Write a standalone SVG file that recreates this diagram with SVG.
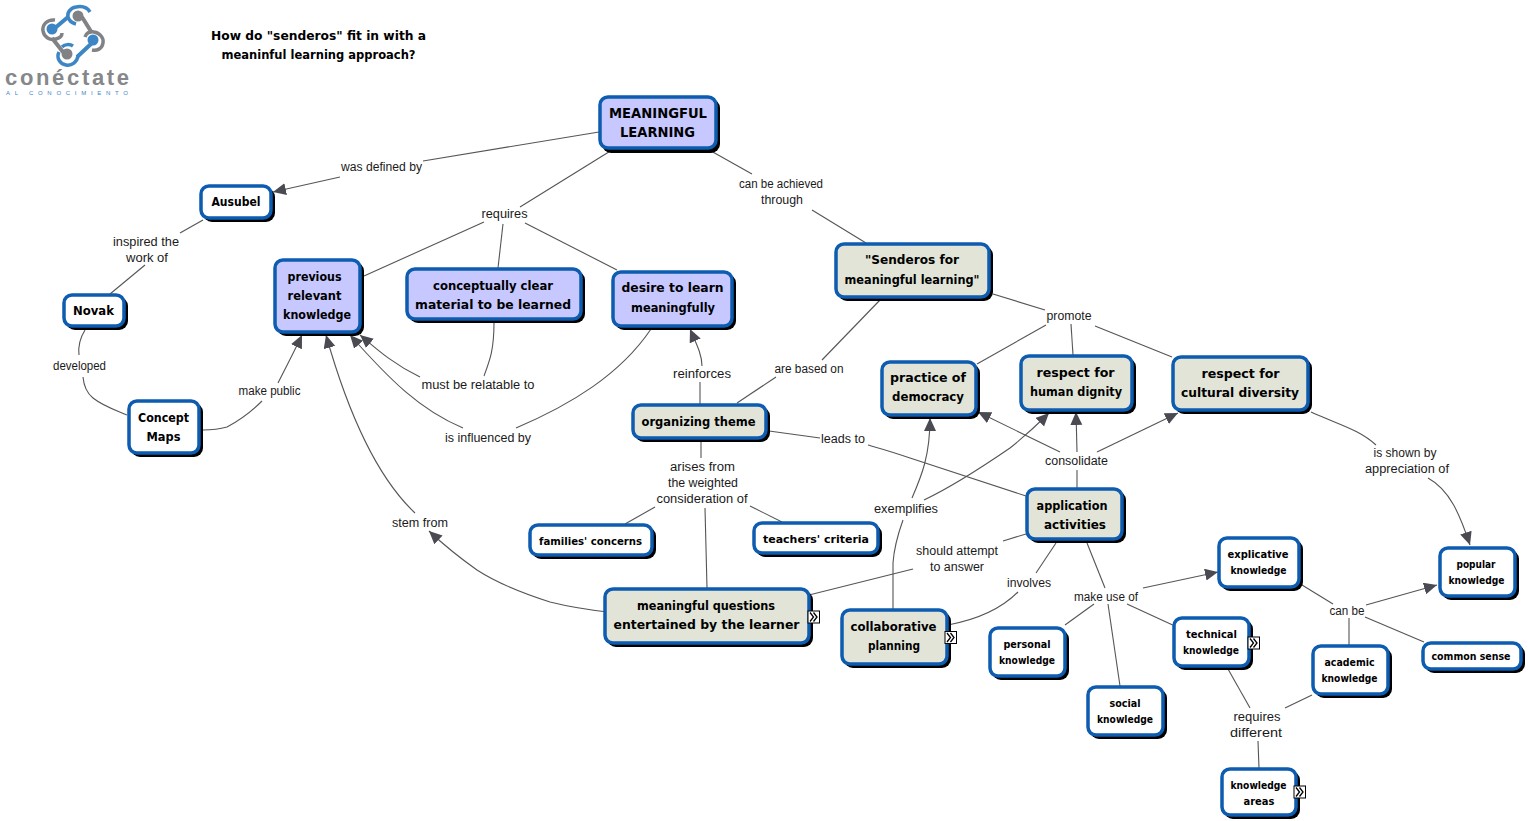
<svg xmlns="http://www.w3.org/2000/svg" width="1528" height="821" viewBox="0 0 1528 821">
<style>
.n text,.t{font-family:"DejaVu Sans","Liberation Sans",sans-serif;font-weight:700;fill:#000;text-anchor:middle}
.l{font-family:"Liberation Sans",Arial,sans-serif;font-size:12px;fill:#1a1a1a;text-anchor:middle}
.s{fill:#000}
.b{fill:#c6c8ff;stroke:#0d5cb0;stroke-width:3.5}
.g{fill:#e1e4d6;stroke:#0d5cb0;stroke-width:3.5}
.w{fill:#fff;stroke:#0d5cb0;stroke-width:3.5}
#c path{fill:none;stroke:#555;stroke-width:1.1}
.a{marker-end:url(#h)}
.ic{fill:#fff;stroke:#000;stroke-width:1}
.ch{fill:none;stroke:#000;stroke-width:1.3}
</style>
<defs>
<marker id="h" markerUnits="userSpaceOnUse" markerWidth="15" markerHeight="14" refX="13" refY="6" orient="auto"><path d="M0 0L13 6L0 12Z" fill="#4a4a52" stroke="none"/></marker>
</defs>
<rect width="1528" height="821" fill="#fff"/>
<g id="logo">
<g fill="none" stroke-width="3.500">
<path d="M55 20C47 19 42 25 43 31C44 37 50 41 56 39C60 38 62 36 62 33" stroke="#808285"/>
<path d="M90 12C87 7 81 6 76 7C70 8 67 13 68 17C69 21 72 23 76 24" stroke="#3d86c6"/>
<path d="M85 37C86 33 90 31 94 32C100 33 104 38 103 43C102 49 97 51 92 50" stroke="#808285"/>
<path d="M62 47C65 44 70 44 73 46M59 52C56 58 60 64 66 65C72 66 77 62 78 56" stroke="#3d86c6"/>
<path d="M82 17L92 33M52 38L63 52" stroke="#808285" stroke-width="4"/>
<path d="M55 28L68 17M92 43L77 57" stroke="#3d86c6" stroke-width="4"/>
</g>
<circle cx="52" cy="29" r="5.500" fill="#3d86c6"/><circle cx="78" cy="16" r="5.500" fill="#808285"/><circle cx="93" cy="40" r="5.500" fill="#3d86c6"/><circle cx="67" cy="54" r="5.500" fill="#808285"/>
<text x="67" y="84.500" font-family="'Liberation Sans',sans-serif" font-weight="700" font-size="22" fill="#85878a" text-anchor="middle" textLength="124" lengthAdjust="spacing">conéctate</text>
<text x="67" y="94.500" font-family="'Liberation Sans',sans-serif" font-size="6" fill="#3d86c6" text-anchor="middle" textLength="122" lengthAdjust="spacing">AL CONOCIMIENTO</text>
</g>
<g id="title">
<text class="t" x="318.500" y="40" font-size="12" textLength="215" lengthAdjust="spacingAndGlyphs">How do "senderos" fit in with a</text>
<text class="t" x="318.500" y="59" font-size="12" textLength="194" lengthAdjust="spacingAndGlyphs">meaninful learning approach?</text>
</g>
<g id="c">
<path d="M599 132L423 161"/><path class="a" d="M340 177L273 192"/>
<path d="M612 150L520 207"/><path d="M484 222L364 276"/><path d="M503 224L498 268"/><path d="M525 223L617 270"/>
<path d="M711 151L752 174"/><path d="M812 210L866 243"/>
<path d="M203 220L180 233"/><path d="M145 265L110 294"/>
<path d="M85 330C80 338 78 346 79 355"/><path d="M83 377C84 388 88 394 93 398C103 406 115 410 127 415"/>
<path d="M203 430C212 430 220 429 227 427C240 420 252 411 262 401"/><path class="a" d="M278 383C286 367 294 352 302 335"/>
<path d="M494 322C494 350 490 360 484 376"/><path class="a" d="M420 377C395 365 380 352 360 335"/>
<path d="M651 329C620 375 570 405 516 428"/><path class="a" d="M463 428C420 410 390 380 350 335"/>
<path d="M700 404L700 382"/><path class="a" d="M702 366C702 355 697 345 690 329"/>
<path d="M880 300L822 360"/><path d="M776 377L737 403"/>
<path d="M993 294L1045 310"/><path d="M1046 325L977 364"/><path d="M1071 324L1073 355"/><path d="M1095 326L1172 357"/>
<path d="M1311 412C1340 425 1360 430 1376 445"/><path class="a" d="M1428 478C1450 490 1460 515 1470 545"/>
<path d="M769 431L820 438"/><path d="M868 445C875 447 890 451 910 458L1026 496"/>
<path d="M701 441L701 458"/><path d="M655 507L625 524"/><path d="M750 506L782 522"/><path d="M705 508L707 588"/>
<path d="M1077 488L1077 470"/><path class="a" d="M1077 452L1076 412"/><path class="a" d="M1060 452L978 412"/><path class="a" d="M1097 452L1178 413"/>
<path d="M1026 534L1003 541"/><path d="M913 569L805 596"/>
<path d="M1056 543L1036 573"/><path d="M1018 592C1000 610 975 620 948 625"/>
<path d="M1087 543L1105 588"/><path class="a" d="M1143 588L1218 572"/><path d="M1094 604L1065 625"/><path d="M1127 604L1177 627"/><path d="M1108 604L1120 686"/>
<path d="M1302 585L1333 604"/><path class="a" d="M1366 605L1437 585"/><path d="M1349 618L1349 645"/><path d="M1365 617L1424 642"/>
<path d="M1228 669L1250 708"/><path d="M1312 695L1285 708"/><path d="M1258 741L1259 768"/>
<path class="a" d="M608 612C590 610 570 607 550 602C525 594 500 585 477 570C460 558 445 546 429 531"/><path class="a" d="M415 513C380 480 350 420 326 335"/>
<path d="M893 613L893 563C894 548 898 534 903 520"/><path class="a" d="M912 498C922 475 930 455 930 418"/><path class="a" d="M924 500C945 490 975 472 1010 448C1025 436 1037 425 1049 413"/>
</g>
<g id="labels">
<text class="l" x="381.500" y="171" textLength="81" lengthAdjust="spacingAndGlyphs">was defined by</text>
<text class="l" x="504.500" y="218" textLength="46" lengthAdjust="spacingAndGlyphs">requires</text>
<text class="l" x="781" y="188" textLength="84" lengthAdjust="spacingAndGlyphs">can be achieved</text>
<text class="l" x="782" y="204" textLength="42" lengthAdjust="spacingAndGlyphs">through</text>
<text class="l" x="146" y="246" textLength="66" lengthAdjust="spacingAndGlyphs">inspired the</text>
<text class="l" x="147" y="262" textLength="42" lengthAdjust="spacingAndGlyphs">work of</text>
<text class="l" x="79.500" y="370" textLength="53" lengthAdjust="spacingAndGlyphs">developed</text>
<text class="l" x="269.500" y="395" textLength="62" lengthAdjust="spacingAndGlyphs">make public</text>
<text class="l" x="478" y="389" textLength="113" lengthAdjust="spacingAndGlyphs">must be relatable to</text>
<text class="l" x="488" y="442" textLength="86" lengthAdjust="spacingAndGlyphs">is influenced by</text>
<text class="l" x="702" y="378" textLength="58" lengthAdjust="spacingAndGlyphs">reinforces</text>
<text class="l" x="809" y="373" textLength="69" lengthAdjust="spacingAndGlyphs">are based on</text>
<text class="l" x="1069" y="320" textLength="45" lengthAdjust="spacingAndGlyphs">promote</text>
<text class="l" x="1405" y="457" textLength="63" lengthAdjust="spacingAndGlyphs">is shown by</text>
<text class="l" x="1407" y="473" textLength="84" lengthAdjust="spacingAndGlyphs">appreciation of</text>
<text class="l" x="843" y="443" textLength="44" lengthAdjust="spacingAndGlyphs">leads to</text>
<text class="l" x="702.500" y="471" textLength="65" lengthAdjust="spacingAndGlyphs">arises from</text>
<text class="l" x="703" y="487" textLength="70" lengthAdjust="spacingAndGlyphs">the weighted</text>
<text class="l" x="702" y="503" textLength="91" lengthAdjust="spacingAndGlyphs">consideration of</text>
<text class="l" x="1076.500" y="465" textLength="63" lengthAdjust="spacingAndGlyphs">consolidate</text>
<text class="l" x="906" y="513" textLength="64" lengthAdjust="spacingAndGlyphs">exemplifies</text>
<text class="l" x="957" y="555" textLength="82" lengthAdjust="spacingAndGlyphs">should attempt</text>
<text class="l" x="957" y="571" textLength="54" lengthAdjust="spacingAndGlyphs">to answer</text>
<text class="l" x="1029" y="587" textLength="44" lengthAdjust="spacingAndGlyphs">involves</text>
<text class="l" x="1106" y="601" textLength="64" lengthAdjust="spacingAndGlyphs">make use of</text>
<text class="l" x="420" y="527" textLength="56" lengthAdjust="spacingAndGlyphs">stem from</text>
<text class="l" x="1347" y="615" textLength="35" lengthAdjust="spacingAndGlyphs">can be</text>
<text class="l" x="1257" y="721" textLength="47" lengthAdjust="spacingAndGlyphs">requires</text>
<text class="l" x="1256" y="737" textLength="52" lengthAdjust="spacingAndGlyphs">different</text>
</g>
<g id="n1" class="n"><rect class="s" x="602" y="99" width="118" height="54" rx="9"/><rect class="b" x="600" y="97" width="116" height="51" rx="8"/><text x="658" y="118" font-size="14" textLength="98" lengthAdjust="spacingAndGlyphs">MEANINGFUL</text><text x="657.500" y="137" font-size="14" textLength="75" lengthAdjust="spacingAndGlyphs">LEARNING</text></g>
<g id="n2" class="n"><rect class="s" x="203" y="188" width="72" height="34" rx="9"/><rect class="w" x="201" y="186" width="70" height="32" rx="8"/><text x="236" y="206" font-size="12" textLength="49" lengthAdjust="spacingAndGlyphs">Ausubel</text></g>
<g id="n3" class="n"><rect class="s" x="66" y="297" width="62" height="33" rx="9"/><rect class="w" x="64" y="295" width="60" height="31" rx="8"/><text x="93.500" y="315" font-size="12" textLength="41" lengthAdjust="spacingAndGlyphs">Novak</text></g>
<g id="n4" class="n"><rect class="s" x="131" y="403" width="72" height="54" rx="9"/><rect class="w" x="129" y="401" width="70" height="52" rx="8"/><text x="163.500" y="422" font-size="12" textLength="51" lengthAdjust="spacingAndGlyphs">Concept</text><text x="163.500" y="441" font-size="12" textLength="34" lengthAdjust="spacingAndGlyphs">Maps</text></g>
<g id="n5" class="n"><rect class="s" x="277" y="262" width="87" height="74" rx="9"/><rect class="b" x="275" y="260" width="85" height="72" rx="8"/><text x="314.500" y="281" font-size="12" textLength="54" lengthAdjust="spacingAndGlyphs">previous</text><text x="314.500" y="300" font-size="12" textLength="54" lengthAdjust="spacingAndGlyphs">relevant</text><text x="317" y="319" font-size="12" textLength="68" lengthAdjust="spacingAndGlyphs">knowledge</text></g>
<g id="n6" class="n"><rect class="s" x="409" y="271" width="176" height="52" rx="9"/><rect class="b" x="407" y="269" width="174" height="50" rx="8"/><text x="493" y="290" font-size="12" textLength="120" lengthAdjust="spacingAndGlyphs">conceptually clear</text><text x="493" y="309" font-size="12" textLength="156" lengthAdjust="spacingAndGlyphs">material to be learned</text></g>
<g id="n7" class="n"><rect class="s" x="615" y="274" width="121" height="56" rx="9"/><rect class="b" x="613" y="272" width="119" height="54" rx="8"/><text x="672.500" y="292" font-size="12" textLength="102" lengthAdjust="spacingAndGlyphs">desire to learn</text><text x="673" y="312" font-size="12" textLength="84" lengthAdjust="spacingAndGlyphs">meaningfully</text></g>
<g id="n8" class="n"><rect class="s" x="838" y="246" width="155" height="55" rx="9"/><rect class="g" x="836" y="244" width="153" height="53" rx="8"/><text x="912" y="264" font-size="12" textLength="94" lengthAdjust="spacingAndGlyphs">"Senderos for</text><text x="912" y="284" font-size="12" textLength="135" lengthAdjust="spacingAndGlyphs">meaningful learning"</text></g>
<g id="n9" class="n"><rect class="s" x="884" y="364" width="96" height="55" rx="9"/><rect class="g" x="882" y="362" width="94" height="53" rx="8"/><text x="928" y="382" font-size="12" textLength="76" lengthAdjust="spacingAndGlyphs">practice of</text><text x="928" y="401" font-size="12" textLength="72" lengthAdjust="spacingAndGlyphs">democracy</text></g>
<g id="n10" class="n"><rect class="s" x="1023" y="358" width="113" height="56" rx="9"/><rect class="g" x="1021" y="356" width="111" height="54" rx="8"/><text x="1075.500" y="377" font-size="12" textLength="78" lengthAdjust="spacingAndGlyphs">respect for</text><text x="1076" y="396" font-size="12" textLength="92" lengthAdjust="spacingAndGlyphs">human dignity</text></g>
<g id="n11" class="n"><rect class="s" x="1175" y="359" width="137" height="55" rx="9"/><rect class="g" x="1173" y="357" width="135" height="53" rx="8"/><text x="1240.500" y="378" font-size="12" textLength="78" lengthAdjust="spacingAndGlyphs">respect for</text><text x="1240" y="397" font-size="12" textLength="118" lengthAdjust="spacingAndGlyphs">cultural diversity</text></g>
<g id="n12" class="n"><rect class="s" x="635" y="407" width="135" height="35" rx="9"/><rect class="g" x="633" y="405" width="133" height="33" rx="8"/><text x="698.500" y="426" font-size="12" textLength="114" lengthAdjust="spacingAndGlyphs">organizing theme</text></g>
<g id="n13" class="n"><rect class="s" x="1029" y="491" width="97" height="52" rx="9"/><rect class="g" x="1027" y="489" width="95" height="50" rx="8"/><text x="1072" y="510" font-size="12" textLength="71" lengthAdjust="spacingAndGlyphs">application</text><text x="1075" y="529" font-size="12" textLength="62" lengthAdjust="spacingAndGlyphs">activities</text></g>
<g id="n14" class="n"><rect class="s" x="532" y="527" width="124" height="32" rx="9"/><rect class="w" x="530" y="525" width="122" height="30" rx="8"/><text x="590.500" y="545" font-size="10" textLength="103" lengthAdjust="spacingAndGlyphs">families' concerns</text></g>
<g id="n15" class="n"><rect class="s" x="756" y="525" width="126" height="32" rx="9"/><rect class="w" x="754" y="523" width="124" height="30" rx="8"/><text x="816" y="543" font-size="10" textLength="106" lengthAdjust="spacingAndGlyphs">teachers' criteria</text></g>
<g id="n16" class="n"><rect class="s" x="607" y="591" width="206" height="56" rx="9"/><rect class="g" x="605" y="589" width="204" height="54" rx="8"/><text x="706" y="610" font-size="12" textLength="138" lengthAdjust="spacingAndGlyphs">meaningful questions</text><text x="706.500" y="629" font-size="12" textLength="186" lengthAdjust="spacingAndGlyphs">entertained by the learner</text><rect class="ic" x="808" y="611" width="11.500" height="12"/><path class="ch" d="M810 612.500L813.500 617L810 621.500M813.500 612.500L817 617L813.500 621.500"/></g>
<g id="n17" class="n"><rect class="s" x="844" y="612" width="107" height="56" rx="9"/><rect class="g" x="842" y="610" width="105" height="54" rx="8"/><text x="893.500" y="631" font-size="12" textLength="86" lengthAdjust="spacingAndGlyphs">collaborative</text><text x="894" y="650" font-size="12" textLength="52" lengthAdjust="spacingAndGlyphs">planning</text><rect class="ic" x="945" y="631.500" width="11.500" height="12"/><path class="ch" d="M947 633L950.500 637.500L947 642M950.500 633L954 637.500L950.500 642"/></g>
<g id="n18" class="n"><rect class="s" x="1221" y="540" width="82" height="51" rx="9"/><rect class="w" x="1219" y="538" width="80" height="49" rx="8"/><text x="1258" y="558" font-size="10" textLength="61" lengthAdjust="spacingAndGlyphs">explicative</text><text x="1258.500" y="574" font-size="10" textLength="56" lengthAdjust="spacingAndGlyphs">knowledge</text></g>
<g id="n19" class="n"><rect class="s" x="1442" y="550" width="77" height="50" rx="9"/><rect class="w" x="1440" y="548" width="75" height="48" rx="8"/><text x="1476" y="568" font-size="10" textLength="39" lengthAdjust="spacingAndGlyphs">popular</text><text x="1476.500" y="584" font-size="10" textLength="56" lengthAdjust="spacingAndGlyphs">knowledge</text></g>
<g id="n20" class="n"><rect class="s" x="992" y="630" width="77" height="50" rx="9"/><rect class="w" x="990" y="628" width="75" height="48" rx="8"/><text x="1027" y="648" font-size="10" textLength="47" lengthAdjust="spacingAndGlyphs">personal</text><text x="1027" y="664" font-size="10" textLength="56" lengthAdjust="spacingAndGlyphs">knowledge</text></g>
<g id="n21" class="n"><rect class="s" x="1176" y="620" width="77" height="50" rx="9"/><rect class="w" x="1174" y="618" width="75" height="48" rx="8"/><text x="1211.500" y="638" font-size="10" textLength="51" lengthAdjust="spacingAndGlyphs">technical</text><text x="1211" y="654" font-size="10" textLength="56" lengthAdjust="spacingAndGlyphs">knowledge</text><rect class="ic" x="1248" y="637" width="11.500" height="12"/><path class="ch" d="M1250 638.500L1253.500 643L1250 647.500M1253.500 638.500L1257 643L1253.500 647.500"/></g>
<g id="n22" class="n"><rect class="s" x="1090" y="689" width="77" height="50" rx="9"/><rect class="w" x="1088" y="687" width="75" height="48" rx="8"/><text x="1125" y="707" font-size="10" textLength="31" lengthAdjust="spacingAndGlyphs">social</text><text x="1125" y="723" font-size="10" textLength="56" lengthAdjust="spacingAndGlyphs">knowledge</text></g>
<g id="n23" class="n"><rect class="s" x="1315" y="648" width="77" height="50" rx="9"/><rect class="w" x="1313" y="646" width="75" height="48" rx="8"/><text x="1349.500" y="666" font-size="10" textLength="50" lengthAdjust="spacingAndGlyphs">academic</text><text x="1349.500" y="682" font-size="10" textLength="56" lengthAdjust="spacingAndGlyphs">knowledge</text></g>
<g id="n24" class="n"><rect class="s" x="1425" y="645" width="100" height="28" rx="9"/><rect class="w" x="1423" y="643" width="98" height="26" rx="8"/><text x="1471" y="660" font-size="10" textLength="79" lengthAdjust="spacingAndGlyphs">common sense</text></g>
<g id="n25" class="n"><rect class="s" x="1224" y="771" width="76" height="48" rx="9"/><rect class="w" x="1222" y="769" width="74" height="46" rx="8"/><text x="1258.500" y="789" font-size="10" textLength="56" lengthAdjust="spacingAndGlyphs">knowledge</text><text x="1259" y="805" font-size="10" textLength="31" lengthAdjust="spacingAndGlyphs">areas</text><rect class="ic" x="1294" y="786" width="11.500" height="12"/><path class="ch" d="M1296 787.500L1299.500 792L1296 796.500M1299.500 787.500L1303 792L1299.500 796.500"/></g>
</svg>
